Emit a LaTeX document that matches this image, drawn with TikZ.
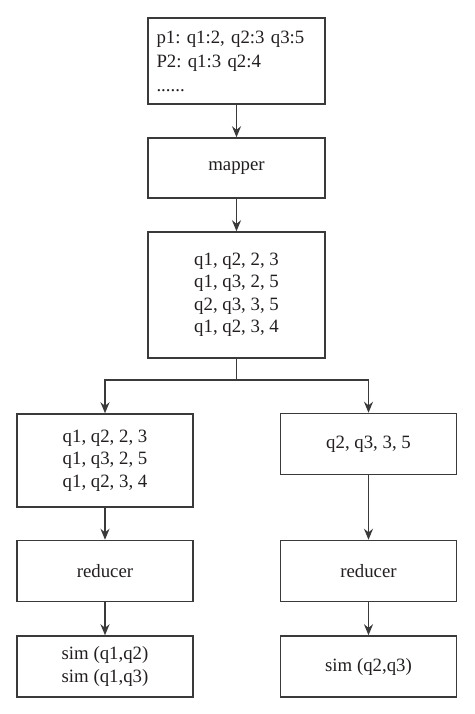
\documentclass[tikz,border=0pt]{standalone}
\usepackage{fontspec}
\setmainfont{Liberation Serif}
\usetikzlibrary{arrows.meta}
\definecolor{ink}{HTML}{231F20}
\definecolor{edge}{HTML}{3A3A3A}
\begin{document}
\frenchspacing
\begin{tikzpicture}[x=1pt,y=-1pt,
  box/.style={draw=edge,line width=1.5pt,rectangle,inner sep=0pt,text=ink,
    font=\fontsize{18.8}{22.5}\selectfont\frenchspacing,align=center},
  arr/.style={draw=edge,line width=1.5pt,-{Stealth[length=11pt,width=9pt]}},
  ln/.style={draw=edge,line width=1.5pt}]
\useasboundingbox[fill=white] (0,0) rectangle (474,714);
% top
\node[box,font=\fontsize{18.8}{24}\selectfont\frenchspacing,minimum width=177pt,
  minimum height=86pt,align=left,text width=160pt]
  (inp) at (236.5,61) {p1: q1:2, q2:3 q3:5\\P2: q1:3 q2:4\\......};
\node[box,minimum width=177pt,minimum height=60pt] (map) at (236.5,168) {mapper};
\node[box,minimum width=177pt,minimum height=126pt] (mid) at (236.5,295)
  {q1, q2, 2, 3\\q1, q3, 2, 5\\q2, q3, 3, 5\\q1, q2, 3, 4};
% left branch
\node[box,minimum width=176pt,minimum height=93pt] (l1) at (105,460.5)
  {q1, q2, 2, 3\\q1, q3, 2, 5\\q1, q2, 3, 4};
\node[box,minimum width=176pt,minimum height=61pt] (l2) at (105,571) {reducer};
\node[box,minimum width=176pt,minimum height=61pt] (l3) at (105,666.5)
  {sim (q1,q2)\\sim (q1,q3)};
% right branch
\node[box,minimum width=176pt,minimum height=61pt] (r1) at (368.5,444) {q2, q3, 3, 5};
\node[box,minimum width=176pt,minimum height=61pt] (r2) at (368.5,571) {reducer};
\node[box,minimum width=176pt,minimum height=61pt] (r3) at (368.5,666.5) {sim (q2,q3)};
% connectors
\coordinate (br) at (236.5,380);
\draw[arr] (inp) -- (map);
\draw[arr] (map) -- (mid);
\draw[ln] (mid.south) -- (br);
\draw[arr] (br) -| (l1.north);
\draw[arr] (br) -| (r1.north);
\draw[arr] (l1) -- (l2);
\draw[arr] (l2) -- (l3);
\draw[arr] (r1) -- (r2);
\draw[arr] (r2) -- (r3);
\end{tikzpicture}
\end{document}
